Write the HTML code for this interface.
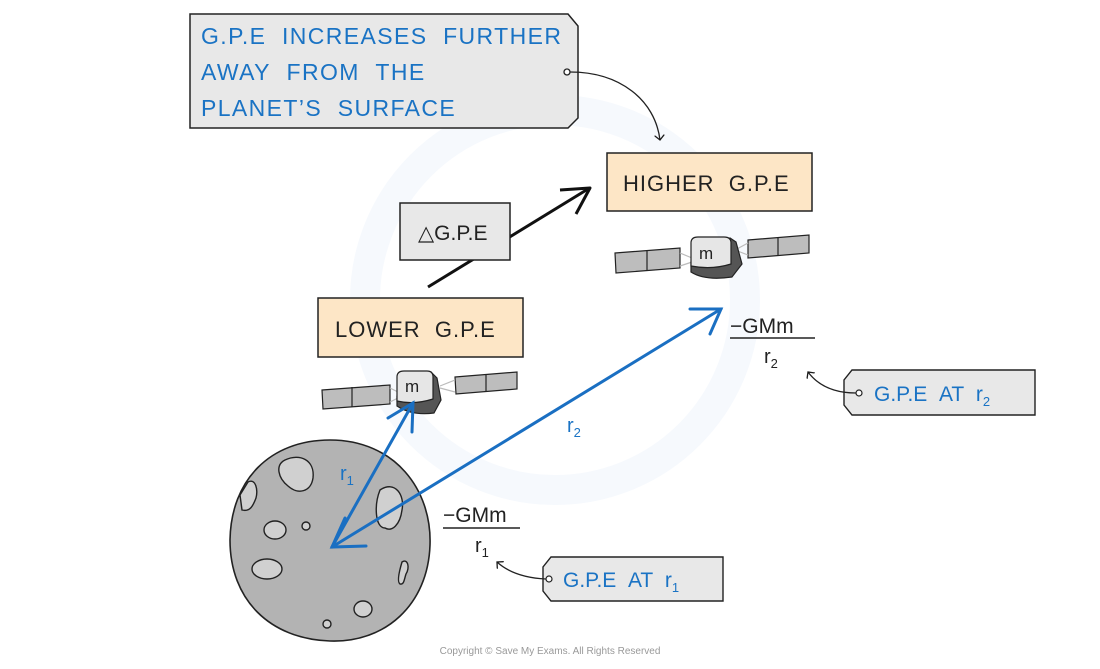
<!DOCTYPE html>
<html><head><style>
body{margin:0;background:#fff}
svg{display:block}
text{font-family:"Liberation Sans",sans-serif}
</style></head><body>
<svg width="1100" height="669" viewBox="0 0 1100 669" xmlns="http://www.w3.org/2000/svg">
<defs>
<marker id="bh" markerWidth="10" markerHeight="10" refX="5" refY="5" orient="auto" markerUnits="userSpaceOnUse"><path d="M0,0 L5,5 L0,10" fill="none" stroke="#1a1a1a" stroke-width="1.3"/></marker>
</defs>
<circle cx="555" cy="300" r="190" fill="none" stroke="#f6f9fd" stroke-width="30"/>
<path d="M190,14 L568,14 L578,26 L578,118 L568,128 L190,128 Z" fill="#e8e8e8" stroke="#222" stroke-width="1.5"/>
<circle cx="567" cy="72" r="3" fill="#fff" stroke="#222" stroke-width="1.3"/>
<g fill="#1a73c4" font-size="23" letter-spacing="1.4">
<text x="201" y="44">G.P.E&#160;&#160;INCREASES&#160;&#160;FURTHER</text>
<text x="201" y="80">AWAY&#160;&#160;FROM&#160;&#160;THE</text>
<text x="201" y="116">PLANET’S&#160;&#160;SURFACE</text>
</g>
<path d="M570,72 C620,72 655,100 660,140" fill="none" stroke="#222" stroke-width="1.3" marker-end="url(#bh)"/>
<rect x="607" y="153" width="205" height="58" fill="#fde6c6" stroke="#222" stroke-width="1.5"/>
<text x="623" y="191" font-size="22" fill="#222" letter-spacing="1">HIGHER&#160;&#160;G.P.E</text>
<rect x="318" y="298" width="205" height="59" fill="#fde6c6" stroke="#222" stroke-width="1.5"/>
<text x="335" y="337" font-size="22" fill="#222" letter-spacing="1">LOWER&#160;&#160;G.P.E</text>
<line x1="428" y1="287" x2="588" y2="189" stroke="#111" stroke-width="3"/>
<path d="M560,190 L590,188 L576,214" fill="none" stroke="#111" stroke-width="3" stroke-linejoin="round"/>
<rect x="400" y="203" width="110" height="57" fill="#e8e8e8" stroke="#222" stroke-width="1.5"/>
<text x="418" y="240" font-size="21" fill="#222">△G.P.E</text>
<g stroke="#222" stroke-width="1.2">
<path d="M615,253 L680,248 L680,268 L616,273 Z" fill="#bdbdbd"/><line x1="647" y1="251" x2="647" y2="271"/>
<path d="M748,240 L809,235 L809,253 L748,258 Z" fill="#bdbdbd"/><line x1="778" y1="238" x2="778" y2="256"/>
<line x1="680" y1="253" x2="692" y2="258" stroke="#bbb"/><line x1="680" y1="266" x2="692" y2="262" stroke="#bbb"/>
<line x1="748" y1="243" x2="735" y2="250" stroke="#bbb"/><line x1="748" y1="255" x2="735" y2="250" stroke="#bbb"/>
<path d="M691,262 L691,272 Q705,281 732,277 L742,264 L736,242 L730,238 Z" fill="#555"/>
<path d="M691,243 Q691,237 698,237 L724,237 Q731,237 731,243 L731,264 Q712,270 691,266 Z" fill="#e6e6e6"/>
</g>
<text x="699" y="259" font-size="17" fill="#222">m</text>
<g stroke="#222" stroke-width="1.2">
<path d="M322,390 L390,385 L390,404 L323,409 Z" fill="#bdbdbd"/><line x1="352" y1="387" x2="352" y2="407"/>
<path d="M455,377 L517,372 L517,389 L456,394 Z" fill="#bdbdbd"/><line x1="486" y1="374" x2="486" y2="391"/>
<line x1="390" y1="388" x2="398" y2="392" stroke="#bbb"/><line x1="390" y1="402" x2="398" y2="398" stroke="#bbb"/>
<line x1="455" y1="380" x2="440" y2="386" stroke="#bbb"/><line x1="455" y1="392" x2="440" y2="388" stroke="#bbb"/>
<path d="M397,396 L397,406 Q412,416 434,413 L441,400 L437,378 L431,372 Z" fill="#555"/>
<path d="M397,377 Q397,371 404,371 L427,371 Q433,371 433,377 L433,399 Q414,405 397,401 Z" fill="#e6e6e6"/>
</g>
<text x="405" y="392" font-size="17" fill="#222">m</text>
<path d="M330,440 C395,440 432,490 430,545 C428,605 385,643 330,641 C270,639 230,600 230,540 C231,480 270,440 330,440 Z" fill="#b3b3b3" stroke="#222" stroke-width="1.6"/>
<g fill="#d0d0d0" stroke="#222" stroke-width="1.4">
<path d="M285,460 C300,453 315,460 313,478 C311,492 298,495 288,486 C278,478 275,465 285,460 Z"/>
<path d="M248,482 C256,478 258,490 256,498 C253,506 250,512 242,510 L240,495 Z"/>
<path d="M380,490 C395,480 405,495 402,510 C400,525 392,532 385,528 C375,528 374,505 380,490 Z"/>
<ellipse cx="275" cy="530" rx="11" ry="9"/>
<circle cx="306" cy="526" r="4"/>
<ellipse cx="267" cy="569" rx="15" ry="10"/>
<path d="M402,562 C408,558 410,568 406,574 C404,580 404,585 400,584 C397,582 399,572 402,562 Z"/>
<ellipse cx="363" cy="609" rx="9" ry="8"/>
<circle cx="327" cy="624" r="4"/>
</g>
<g stroke="#1a6fc2" stroke-width="3" fill="none" stroke-linecap="round">
<line x1="332" y1="547" x2="413" y2="403"/>
<line x1="332" y1="547" x2="721" y2="309"/>
<path d="M345,518 L332,547 L366,546"/>
<path d="M388,418 L413,403 L412,432"/>
<path d="M690,309 L721,309 L710,334"/>
</g>
<text x="340" y="480" font-size="20" fill="#1a73c4">r<tspan font-size="13" dy="5">1</tspan></text>
<text x="567" y="432" font-size="20" fill="#1a73c4">r<tspan font-size="13" dy="5">2</tspan></text>
<text x="730" y="333" font-size="21" fill="#222">−GMm</text>
<line x1="730" y1="338" x2="815" y2="338" stroke="#222" stroke-width="1.5"/>
<text x="764" y="363" font-size="20" fill="#222">r<tspan font-size="13" dy="5">2</tspan></text>
<path d="M852,370 L1035,370 L1035,415 L852,415 L844,405 L844,380 Z" fill="#e8e8e8" stroke="#222" stroke-width="1.4"/>
<circle cx="859" cy="393" r="3" fill="#fff" stroke="#222" stroke-width="1.2"/>
<text x="874" y="401" font-size="21" fill="#1a73c4">G.P.E&#160;&#160;AT&#160;&#160;r<tspan font-size="13" dy="5">2</tspan></text>
<path d="M856,393 C838,393 820,388 808,372" fill="none" stroke="#222" stroke-width="1.3" marker-end="url(#bh)"/>
<text x="443" y="522" font-size="21" fill="#222">−GMm</text>
<line x1="443" y1="528" x2="520" y2="528" stroke="#222" stroke-width="1.5"/>
<text x="475" y="552" font-size="20" fill="#222">r<tspan font-size="13" dy="5">1</tspan></text>
<path d="M551,557 L723,557 L723,601 L551,601 L543,591 L543,567 Z" fill="#e8e8e8" stroke="#222" stroke-width="1.4"/>
<circle cx="549" cy="579" r="3" fill="#fff" stroke="#222" stroke-width="1.2"/>
<text x="563" y="587" font-size="21" fill="#1a73c4">G.P.E&#160;&#160;AT&#160;&#160;r<tspan font-size="13" dy="5">1</tspan></text>
<path d="M546,579 C525,578 508,572 497,562" fill="none" stroke="#222" stroke-width="1.3" marker-end="url(#bh)"/>
<text x="550" y="654" font-size="10" fill="#999" text-anchor="middle">Copyright © Save My Exams. All Rights Reserved</text>
</svg>
</body></html>
